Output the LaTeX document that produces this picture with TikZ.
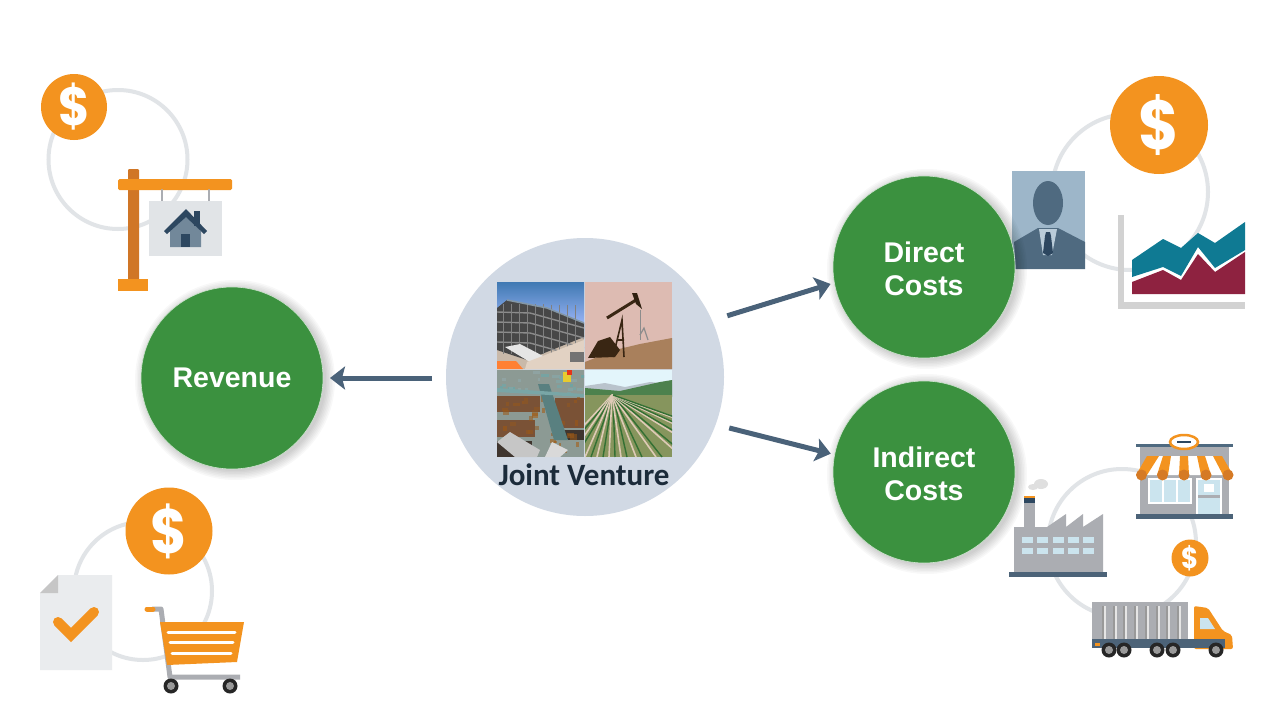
\documentclass[tikz,border=0pt]{standalone}
\usepackage{fontspec}
\setmainfont{Liberation Sans}
\newfontfamily\carlitofont{Carlito}
\newfontfamily\coinfont{Poppins}[UprightFont=* Bold]
\usetikzlibrary{arrows.meta,shapes.geometric}
\definecolor{orangeA}{HTML}{F3931F}
\definecolor{orangeB}{HTML}{D07626}
\definecolor{greenA}{HTML}{3B913F}
\definecolor{ringgray}{HTML}{E1E4E7}
\definecolor{slateA}{HTML}{4F6A80}
\definecolor{arrowcol}{HTML}{4A6279}
\definecolor{navyA}{HTML}{2D4760}
\definecolor{jvblue}{HTML}{D1D9E4}
\definecolor{greyA}{HTML}{ABADB2}
\definecolor{paleblue}{HTML}{CBE4EE}
\definecolor{tealA}{HTML}{0F7A93}
\definecolor{maroonA}{HTML}{8E2240}
\definecolor{cardblue}{HTML}{9DB6C9}
\definecolor{mallbase}{HTML}{8C9A94}
\definecolor{mallbrown}{HTML}{7A5236}
\definecolor{malldark}{HTML}{3F352E}
\definecolor{pumpbg}{HTML}{DDBBB2}
\definecolor{pumpground}{HTML}{A9805C}
\newcommand{\softshadow}[2]{%
  \foreach \rr in {100,98.5,97,95.5,94,92.5,91}{%
    \fill[black,opacity=.028] (#1+3,#2+2) circle[radius=\rr];}}
\newcommand{\wheel}[2]{%
  \fill[black!85] (#1,#2) circle[radius=7.5];
  \fill[black!40] (#1,#2) circle[radius=4];}
\newcommand{\tallsign}{\raisebox{-1pt}{\scalebox{1}[1.12]{\$}}}
\tikzset{
  x=1pt,y=-1pt,
  ring/.style={draw=ringgray,line width=4pt},
  coin/.style={circle,fill=orangeA,text=white,inner sep=0pt,outer sep=0pt},
  bigcircle/.style={circle,fill=greenA,draw=white!75!greenA,line width=.6pt,text=white,minimum size=182pt,inner sep=0pt,outer sep=0pt,align=center,font=\fontsize{28.5}{33.5}\selectfont\bfseries},
  flow/.style={draw=arrowcol,line width=5pt,-{Stealth[length=15pt,width=23pt,inset=3pt]}},
}
\begin{document}
\begin{tikzpicture}
\useasboundingbox (0,0) rectangle (1280,720);
\fill[white] (0,0) rectangle (1280,720);

% rings
\draw[ring] (118,159.5) circle[radius=69.5];
\draw[ring] (143,591) circle[radius=69];
\draw[ring] (1130,192) circle[radius=78];
\draw[ring] (1122,543) circle[radius=74];

% sale sign
\fill[orangeB,rounded corners=1pt] (128,169) rectangle (139,282);
\fill[orangeA,rounded corners=1.5pt] (118,179) rectangle (232,190);
\fill[orangeA] (118,279) rectangle (148,291);
\draw[greyA,line width=2.5pt,line cap=round] (162,190) -- (162,203) (209,190) -- (209,203);
\fill[ringgray] (149,201) rectangle (222,256);
\fill[slateA!80] (170,231) -- (186,216) -- (201,231) -- (201,247) -- (170,247) -- cycle;
\fill[navyA] (194,211) rectangle (200,226);
\fill[navyA] (164,231) -- (186,209) -- (207,231) -- (204,234) -- (186,217) -- (167,234) -- cycle;
\fill[navyA] (181,234) rectangle (190,247);

% invoice
\fill[ringgray!70!white] (58,575) -- (112,575) -- (112,670) -- (40,670) -- (40,593) -- cycle;
\fill[gray!45] (58,575) -- (58,593) -- (40,593) -- cycle;
\draw[orangeA,line width=10pt,line cap=round,line join=miter] (58,622) -- (71,635) -- (94,612);

% cart
\draw[greyA,line width=5pt,line join=round] (152,609) -- (161,609) -- (170,677) -- (240,677);
\draw[orangeA,line width=5pt,line cap=round] (147,609) -- (153,609);
\fill[orangeA] (160,622) -- (244,622) -- (237,662) -- (167,665) -- cycle;
\draw[white,line width=3pt,line cap=round] (168,632) -- (235,632) (170,642) -- (233,642) (172,653) -- (231,653);
\wheel{171}{686}
\wheel{230}{686}

% person card
\fill[cardblue] (1012,171) rectangle (1085,269);
\fill[slateA] (1014,242) -- (1038,228) -- (1058,228) -- (1085,242) -- (1085,269) -- (1016,269) -- cycle;
\fill[cardblue!70!white] (1039,229) -- (1057,229) -- (1052,255) -- (1043,255) -- cycle;
\fill[navyA] (1046,232) -- (1050,232) -- (1051,236) -- (1053,253) -- (1048,256) -- (1043,253) -- (1045,236) -- cycle;
\fill[slateA] (1048,203) ellipse[x radius=15,y radius=22];

% chart
\fill[gray!35] (1118,215) rectangle (1124,309);
\fill[gray!35] (1118,302) rectangle (1245,309);
\fill[tealA] (1132,260) -- (1163,239) -- (1181,248) -- (1198,233) -- (1215,243) -- (1245,222) -- (1245,250) -- (1215,268) -- (1198,247) -- (1181,276) -- (1163,267) -- (1132,277) -- cycle;
\fill[maroonA] (1132,282) -- (1163,270) -- (1181,280) -- (1198,254) -- (1215,272) -- (1245,252) -- (1245,294) -- (1132,294) -- cycle;

% store
\fill[greyA] (1140,447) rectangle (1229,515);
\fill[slateA] (1136,444) rectangle (1233,447);
\fill[navyA!85!white] (1136,514) rectangle (1233,519);
\fill[white] (1148,478) rectangle (1192,504);
\fill[paleblue] (1150,480) rectangle (1190,502);
\draw[white,line width=1.5pt] (1163,480) -- (1163,502) (1177,480) -- (1177,502);
\fill[white] (1196,478) rectangle (1222,514);
\fill[paleblue] (1198,480) rectangle (1220,514);
\fill[white] (1204,484) rectangle (1214,492);
\fill[greyA] (1198,495) rectangle (1220,498);
\fill[white] (1148,456) -- (1220,456) -- (1233,475) -- (1136,475) -- cycle;
\fill[orangeA] (1147,456) -- (1159,456) -- (1147,475) -- (1136,475) -- cycle;
\fill[orangeA] (1163,456) -- (1171,456) -- (1168,475) -- (1157,475) -- cycle;
\fill[orangeA] (1180,456) -- (1188,456) -- (1189,475) -- (1179,475) -- cycle;
\fill[orangeA] (1197,456) -- (1205,456) -- (1211,475) -- (1201,475) -- cycle;
\fill[orangeA] (1213,456) -- (1222,456) -- (1233,475) -- (1223,475) -- cycle;
\foreach \sx in {1141.5,1162.5,1184,1206,1228}{\fill[orangeB!85!orangeA] (\sx,475) ellipse[x radius=5.5,y radius=5.5];}
\fill[white,draw=orangeA,line width=2.5pt] (1184,442) ellipse[x radius=14,y radius=7];
\draw[navyA,line width=1.5pt] (1177,442) -- (1191,442);

% factory
\fill[gray!25] (1041,484) ellipse[x radius=7,y radius=5];
\fill[gray!25] (1033,487) ellipse[x radius=5,y radius=3];
\fill[greyA] (1024,496) rectangle (1035,528);
\fill[orangeA] (1024,496) rectangle (1035,498);
\fill[navyA] (1024,498) rectangle (1035,503);
\fill[greyA] (1014,527) -- (1047,527) -- (1066,514) -- (1066,527) -- (1083,514) -- (1083,527) -- (1103,514) -- (1103,572) -- (1014,572) -- cycle;
\fill[navyA!85!white] (1009,572) rectangle (1107,577);
\foreach \wx in {1022,1037,1053,1068,1083}{
  \fill[paleblue] (\wx,537) rectangle ++(11,6);
  \fill[paleblue] (\wx,548) rectangle ++(11,6);}

% truck
\fill[greyA] (1092,602) rectangle (1188,639);
\foreach \wx in {1102,1113,1123,1134,1145,1156,1166,1177}{
  \fill[black!40] (\wx,606) rectangle ++(1.5,33);
  \fill[white!80!gray] (\wx+1.5,606) rectangle ++(2.5,33);}
\fill[orangeA,rounded corners=2pt] (1194,606) -- (1208,608) -- (1223,631) -- (1232,635) -- (1233,649) -- (1194,649) -- cycle;
\fill[paleblue] (1200,618) -- (1208,618) -- (1215,629) -- (1200,629) -- cycle;
\fill[navyA!85!white] (1092,639) -- (1225,639) -- (1225,648) -- (1092,648) -- cycle;
\fill[orangeA] (1095,643) rectangle (1100,646);
\wheel{1109}{650}
\wheel{1124}{650}
\wheel{1157}{650}
\wheel{1173}{650}
\wheel{1216}{650}

% dollar coins
\node[coin,minimum size=66pt,font=\coinfont\fontsize{48}{48}\selectfont] (coinA) at (74,107) {\tallsign};
\node[coin,minimum size=87pt,font=\coinfont\fontsize{56}{56}\selectfont] (coinB) at (169,531) {\tallsign};
\node[coin,minimum size=98pt,font=\coinfont\fontsize{62}{62}\selectfont] (coinC) at (1159,125) {\tallsign};
\node[coin,minimum size=37pt,font=\coinfont\fontsize{26}{26}\selectfont] (coinD) at (1190,558) {\tallsign};

% central disc and photos
\node[circle,fill=jvblue,minimum size=278pt,inner sep=0pt,outer sep=0pt] (jv) at (585,377) {};

% photo 1: construction
\begin{scope}
\clip (497,282) rectangle (584,369);
\shade[top color=blue!50!cyan!60!black!75!white,bottom color=cyan!25!blue!35!white] (497,282) rectangle (584,330);
\fill[gray!55!brown!55!white] (497,340) -- (584,335) -- (584,369) -- (497,369) -- cycle;
\fill[black!72] (497,308) -- (507,300) -- (547,308) -- (584,323) -- (584,337) -- (527,360) -- (497,350) -- cycle;
\foreach \ly in {312,322,332,342}{\draw[black!45,line width=1.4pt] (497,\ly) -- (530,\ly+1) -- (584,\ly+16);}
\foreach \lx in {503,511,519,527,535,543,551,559,567,575}{\draw[black!50,line width=1pt] (\lx,304+\lx/100-5) -- (\lx,354);}
\draw[slateA!70!white,line width=1.5pt] (507,300) -- (547,308) -- (584,323);
\fill[gray!20] (505,347) -- (520,344) -- (545,357) -- (530,362) -- cycle;
\fill[gray!30!brown!35!white] (527,362) -- (584,340) -- (584,369) -- (525,369) -- cycle;
\fill[black!55] (570,352) rectangle (584,362);
\fill[orange!75!red!80!white] (497,361) -- (516,361) -- (523,369) -- (497,369) -- cycle;
\end{scope}
% photo 2: oil pump
\begin{scope}
\clip (585,282) rectangle (672,369);
\fill[pumpbg] (585,282) rectangle (672,369);
\fill[pumpground] (585,362) -- (615,350) -- (640,344) -- (672,338) -- (672,369) -- (585,369) -- cycle;
\draw[black!70!brown,line width=3pt] (607,318) -- (636,300);
\fill[black!75!brown] (632,293) -- (637,293) -- (642,309) -- (636,304) -- cycle;
\draw[black!70!brown,line width=1.6pt] (613,357) -- (622,320) -- (624,357) (618,340) -- (624,340);
\fill[black!70!brown] (588,358) -- (598,341) -- (610,337) -- (620,350) -- (615,357) -- cycle;
\draw[black!45,line width=1pt] (640,310) -- (640,340);
\draw[black!45,line width=1.2pt] (640,335) -- (644,328) -- (648,340);
\end{scope}
% photo 3: mall
\begin{scope}
\clip (497,370) rectangle (584,457);
\fill[mallbase] (497,370) rectangle (584,457);
\fill[mallbrown] (497,396) rectangle (540,412);
\fill[mallbrown] (497,420) rectangle (535,437);
\fill[malldark] (497,441) rectangle (532,457);
\fill[mallbrown] (555,398) rectangle (584,428);
\fill[malldark] (560,430) rectangle (584,440);
\pgfmathsetseed{7}
\foreach \i in {1,...,40}{
  \pgfmathsetmacro{\px}{497+rnd*80}
  \pgfmathsetmacro{\py}{395+rnd*60}
  \pgfmathsetmacro{\pw}{2+rnd*5}
  \pgfmathsetmacro{\ph}{2+rnd*4}
  \pgfmathsetmacro{\pm}{20+rnd*60}
  \fill[orange!\pm!brown!70!black,opacity=.55] (\px,\py) rectangle ++(\pw,\ph);}
\foreach \i in {1,...,30}{
  \pgfmathsetmacro{\px}{497+rnd*85}
  \pgfmathsetmacro{\py}{370+rnd*22}
  \pgfmathsetmacro{\pw}{2+rnd*6}
  \pgfmathsetmacro{\pm}{20+rnd*50}
  \fill[teal!\pm!gray!70!white,opacity=.8] (\px,\py) rectangle ++(\pw,3);}
\fill[gray!45] (510,432) -- (540,450) -- (537,457) -- (515,457) -- (497,442) -- cycle;
\fill[gray!70!teal] (538,384) -- (549,384) -- (568,440) -- (554,440) -- cycle;
\fill[gray!50!teal!70!white] (497,388) -- (584,394) -- (584,397) -- (497,392) -- cycle;
\fill[yellow!60!brown] (563,372) rectangle (571,382);
\fill[red!60!brown] (567,370) rectangle (572,375);
\fill[white!70!gray] (552,442) -- (568,450) -- (560,457) -- (545,457) -- cycle;
\end{scope}
% photo 4: vineyard
\begin{scope}
\clip (585,370) rectangle (672,457);
\fill[gray!15!cyan!12!white] (585,370) rectangle (672,392);
\fill[slateA!40!white] (585,386) -- (605,383) -- (625,387) -- (650,382) -- (672,384) -- (672,396) -- (585,396) -- cycle;
\fill[gray!60!green!60!black!85] (585,388) -- (620,391) -- (660,382) -- (672,380) -- (672,397) -- (585,397) -- cycle;
\fill[olive!60!green!45!gray] (585,395) rectangle (672,457);
\foreach \bx in {555,570,585,597,609,621,636,656,682,712,745,780}{
  \draw[brown!35!white!90!gray,line width=1.6pt] (\bx,457) -- (612,395);
  \draw[green!30!black!80,line width=1.4pt] (\bx+6,457) -- (613,395);}
\end{scope}
\node[text=navyA!60!black,inner sep=0pt,font=\carlitofont\fontsize{31}{32}\selectfont\bfseries] (jvlabel) at (584,475) {Joint Venture};

% green discs
\softshadow{232}{378}
\softshadow{924}{267}
\softshadow{924}{472}
\node[bigcircle] (rev) at (232,378) {Revenue};
\node[bigcircle] (dir) at (924,267) {\rule{0pt}{24pt}Direct\\Costs};
\node[bigcircle] (ind) at (924,472) {\rule{0pt}{24pt}Indirect\\Costs};

% connectors
\draw[flow,shorten <=14pt,shorten >=7pt] (jv.west |- rev.east) -- (rev.east);
\draw[flow,shorten <=16pt,shorten >=4pt] (jv.24) -- (dir.190);
\draw[flow,shorten <=14pt,shorten >=4pt] (jv.-20) -- (ind.169);
\end{tikzpicture}
\end{document}
